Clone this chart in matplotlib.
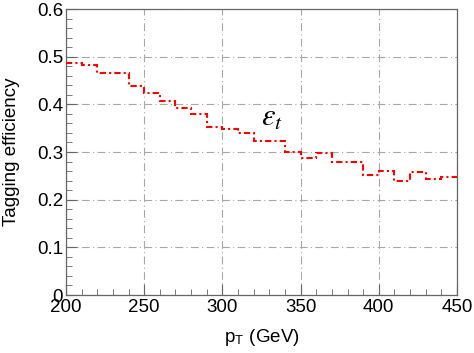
import numpy as np
import matplotlib
matplotlib.use("Agg")
import matplotlib.pyplot as plt
from matplotlib.ticker import MultipleLocator

plt.rcParams['font.family'] = ['Liberation Sans', 'DejaVu Sans']
plt.rcParams['mathtext.fontset'] = 'stix'

# bin edges (GeV) and tagging efficiency per bin
edges = np.arange(200, 451, 10)
eff = [0.487, 0.482, 0.466, 0.466, 0.439, 0.423, 0.408, 0.392, 0.380, 0.353,
       0.348, 0.340, 0.323, 0.324, 0.299, 0.288, 0.297, 0.279, 0.278, 0.252,
       0.260, 0.240, 0.257, 0.244, 0.248]

fig = plt.figure(figsize=(4.74, 3.53), dpi=100)
ax = fig.add_axes([0.1392, 0.1643, 0.8249, 0.8102])

ax.stairs(eff, edges, baseline=None, color='red', linewidth=1.5,
          linestyle=(0, (3, 1.5, 1, 1.5)), zorder=3)

ax.set_xlim(200, 450)
ax.set_ylim(0, 0.6)
ax.xaxis.set_major_locator(MultipleLocator(50))
ax.xaxis.set_minor_locator(MultipleLocator(10))
ax.yaxis.set_major_locator(MultipleLocator(0.1))
ax.yaxis.set_minor_locator(MultipleLocator(0.02))
ax.set_yticks(np.arange(0, 0.61, 0.1))
ax.set_yticklabels(['0', '0.1', '0.2', '0.3', '0.4', '0.5', '0.6'])

ax.tick_params(which='both', direction='in', top=False, right=False,
               labelsize=13.5, color='#666666')
ax.tick_params(which='major', length=8)
ax.tick_params(which='minor', length=4)
ax.tick_params(axis='x', pad=3)
ax.tick_params(axis='y', pad=2)

ax.grid(True, which='major', color='#a8a8a8', linestyle=(0, (7, 3, 1, 3)),
        linewidth=0.8)
for s in ax.spines.values():
    s.set_color('#666666')
    s.set_linewidth(0.9)

ax.set_xlabel(r'p$_{\mathregular{T}}$ (GeV)', fontsize=13.5, labelpad=8)
ax.set_ylabel('Tagging efficiency', fontsize=13.5, labelpad=12)

ax.text(325, 0.355, r'$\epsilon_t$', fontsize=22)

fig.savefig('out.png', dpi=100)
